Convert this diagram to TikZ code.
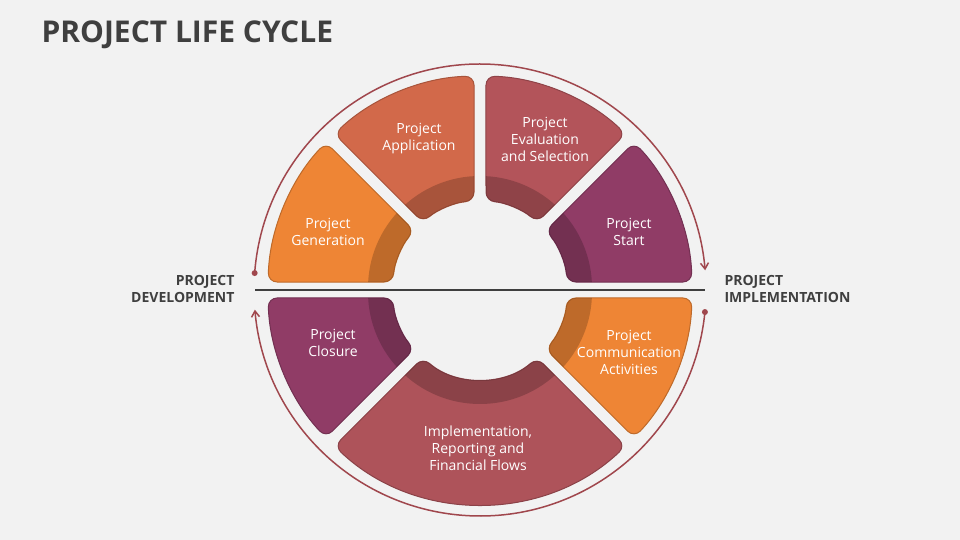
\documentclass[tikz,border=0pt]{standalone}
\usepackage{fontspec}
\setmainfont{Open Sans}
\usetikzlibrary{arrows.meta}
\definecolor{bg}{HTML}{F2F2F2}
\definecolor{cOr}{HTML}{EE8535}
\definecolor{cAp}{HTML}{D2694A}
\definecolor{cEv}{HTML}{B3545A}
\definecolor{cSt}{HTML}{903C66}
\definecolor{cIm}{HTML}{AE535A}
\definecolor{ring}{HTML}{A0474D}
\definecolor{ttl}{HTML}{3F3F3F}
\tikzset{
  lbl/.style={text=white,font=\fontsize{14}{17}\selectfont,align=center},
  side/.style={text=ttl,font=\bfseries\fontsize{14}{17}\selectfont},
}
\newcommand{\seg}[4]{% a1 a2 color name
  \def\segpath{(#1+1.62:212) arc[start angle=#1+1.62,end angle=#2-1.62,radius=212] -- (#2-3.95:87) arc[start angle=#2-3.95,end angle=#1+3.95,radius=87] -- cycle}
  \begin{scope}
    \fill[#3,draw=#3!80!black,line width=1pt,rounded corners=9pt] \segpath;
    \clip[rounded corners=9pt] \segpath;
    \fill[black,opacity=0.2,even odd rule] (0,0) circle[radius=112] (0,0) circle[radius=80];
  \end{scope}}
\begin{document}
\begin{tikzpicture}[x=1pt,y=1pt]
\fill[bg] (0,0) rectangle (960,540);
\useasboundingbox (0,0) rectangle (960,540);
\node[anchor=west,text=ttl,font=\bfseries\fontsize{30}{34}\selectfont] (title) at (38,505) {PROJECT LIFE CYCLE};
\begin{scope}[shift={(480,250)}]
  \begin{scope}[yshift=2]
  \seg{135}{180}{cOr}{gen}
  \seg{90}{135}{cAp}{app}
  \seg{45}{90}{cEv}{eva}
  \seg{0}{45}{cSt}{sta}
  \end{scope}
  \begin{scope}[yshift=-2]
  \seg{180}{225}{cSt}{clo}
  \seg{225}{315}{cIm}{imp}
  \seg{315}{360}{cOr}{com}
  \end{scope}
  \coordinate (l1) at (-225,0);
  \coordinate (l2) at (225,0);
  \draw[ttl,line width=1.3pt] (l1) -- (l2);
  \draw[ring,line width=1.5pt,-{Straight Barb[length=6pt,width=8pt]}] (175.7:226) arc[start angle=175.7,end angle=5,radius=226];
  \fill[ring] (175.7:226) circle[radius=3];
  \draw[ring,line width=1.5pt,-{Straight Barb[length=6pt,width=8pt]}] (-5.6:226) arc[start angle=-5.6,end angle=-175,radius=226];
  \fill[ring] (-5.6:226) circle[radius=3];
\end{scope}
\node[lbl] (tgen) at (328,308) {Project\\Generation};
\node[lbl] (tapp) at (419,401) {Project\\Application};
\node[lbl] (teva) at (545,401) {Project\\Evaluation\\and Selection};
\node[lbl] (tsta) at (629,308) {Project\\Start};
\node[lbl] (tclo) at (333,197) {Project\\Closure};
\node[lbl] (timp) at (478,92) {Implementation,\\Reporting and\\Financial Flows};
\node[lbl] (tcom) at (629,188) {Project\\Communication\\Activities};
\node[side,align=right,anchor=east] (dev) at (238,251) {PROJECT\\DEVELOPMENT};
\node[side,align=left,anchor=west] (impl) at (721,251) {PROJECT\\IMPLEMENTATION};
\end{tikzpicture}
\end{document}
